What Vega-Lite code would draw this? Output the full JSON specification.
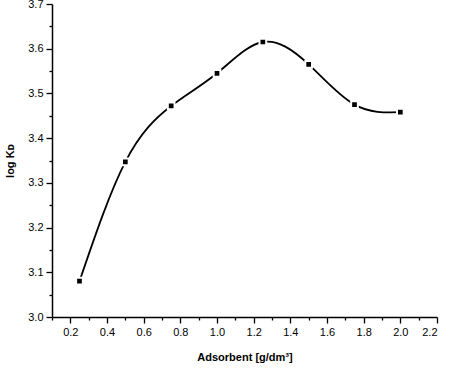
{
  "$schema": "https://vega.github.io/schema/vega-lite/v6.json",
  "autosize": {"type": "none"},
  "width": 385,
  "height": 313,
  "padding": {"left": 52, "top": 4, "right": 37, "bottom": 52},
  "background": "white",
  "config": {
    "view": {"stroke": null},
    "font": "Liberation Sans",
    "axis": {
      "domainColor": "black",
      "domainWidth": 1.5,
      "tickColor": "black",
      "tickWidth": 1.3,
      "grid": false,
      "labelFont": "Liberation Sans",
      "labelFontSize": 11,
      "labelColor": "black",
      "titleFont": "Liberation Sans",
      "titleFontSize": 11,
      "titleFontWeight": "bold",
      "titleColor": "black"
    }
  },
  "data": {
    "values": [
      {"adsorbent": 0.25, "logK": 3.08},
      {"adsorbent": 0.5, "logK": 3.347},
      {"adsorbent": 0.75, "logK": 3.472},
      {"adsorbent": 1.0, "logK": 3.545},
      {"adsorbent": 1.25, "logK": 3.615},
      {"adsorbent": 1.5, "logK": 3.565},
      {"adsorbent": 1.75, "logK": 3.475},
      {"adsorbent": 2.0, "logK": 3.458}
    ]
  },
  "encoding": {
    "x": {
      "field": "adsorbent",
      "type": "quantitative",
      "scale": {"domain": [0.1, 2.2], "nice": false, "zero": false},
      "axis": {
        "title": "Adsorbent [g/dm³]",
        "titlePadding": 14,
        "values": [0.1,0.2,0.3,0.4,0.5,0.6,0.7,0.8,0.9,1.0,1.1,1.2,1.3,1.4,1.5,1.6,1.7,1.8,1.9,2.0,2.1,2.2],
        "labelExpr": "(round(datum.value*10) % 2 == 0) ? format(datum.value, '.1f') : ''",
        "tickSize": {"condition": {"test": "round(datum.value*10) % 2 == 0", "value": 6}, "value": 3},
        "labelPadding": 3
      }
    },
    "y": {
      "field": "logK",
      "type": "quantitative",
      "scale": {"domain": [3.0, 3.7], "nice": false, "zero": false},
      "axis": {
        "title": "log Kᴅ",
        "titlePadding": 12,
        "values": [3.0,3.05,3.1,3.15,3.2,3.25,3.3,3.35,3.4,3.45,3.5,3.55,3.6,3.65,3.7],
        "labelExpr": "(abs(datum.value*10 - round(datum.value*10)) < 0.01) ? format(datum.value, '.1f') : ''",
        "tickSize": {"condition": {"test": "abs(datum.value*10 - round(datum.value*10)) < 0.01", "value": 6}, "value": 3},
        "labelPadding": 3
      }
    }
  },
  "layer": [
    {"mark": {"type": "line", "interpolate": "natural", "color": "black", "strokeWidth": 1.8}},
    {"mark": {"type": "point", "shape": "square", "filled": true, "size": 45, "color": "black", "opacity": 1, "stroke": "white", "strokeWidth": 2}}
  ]
}
